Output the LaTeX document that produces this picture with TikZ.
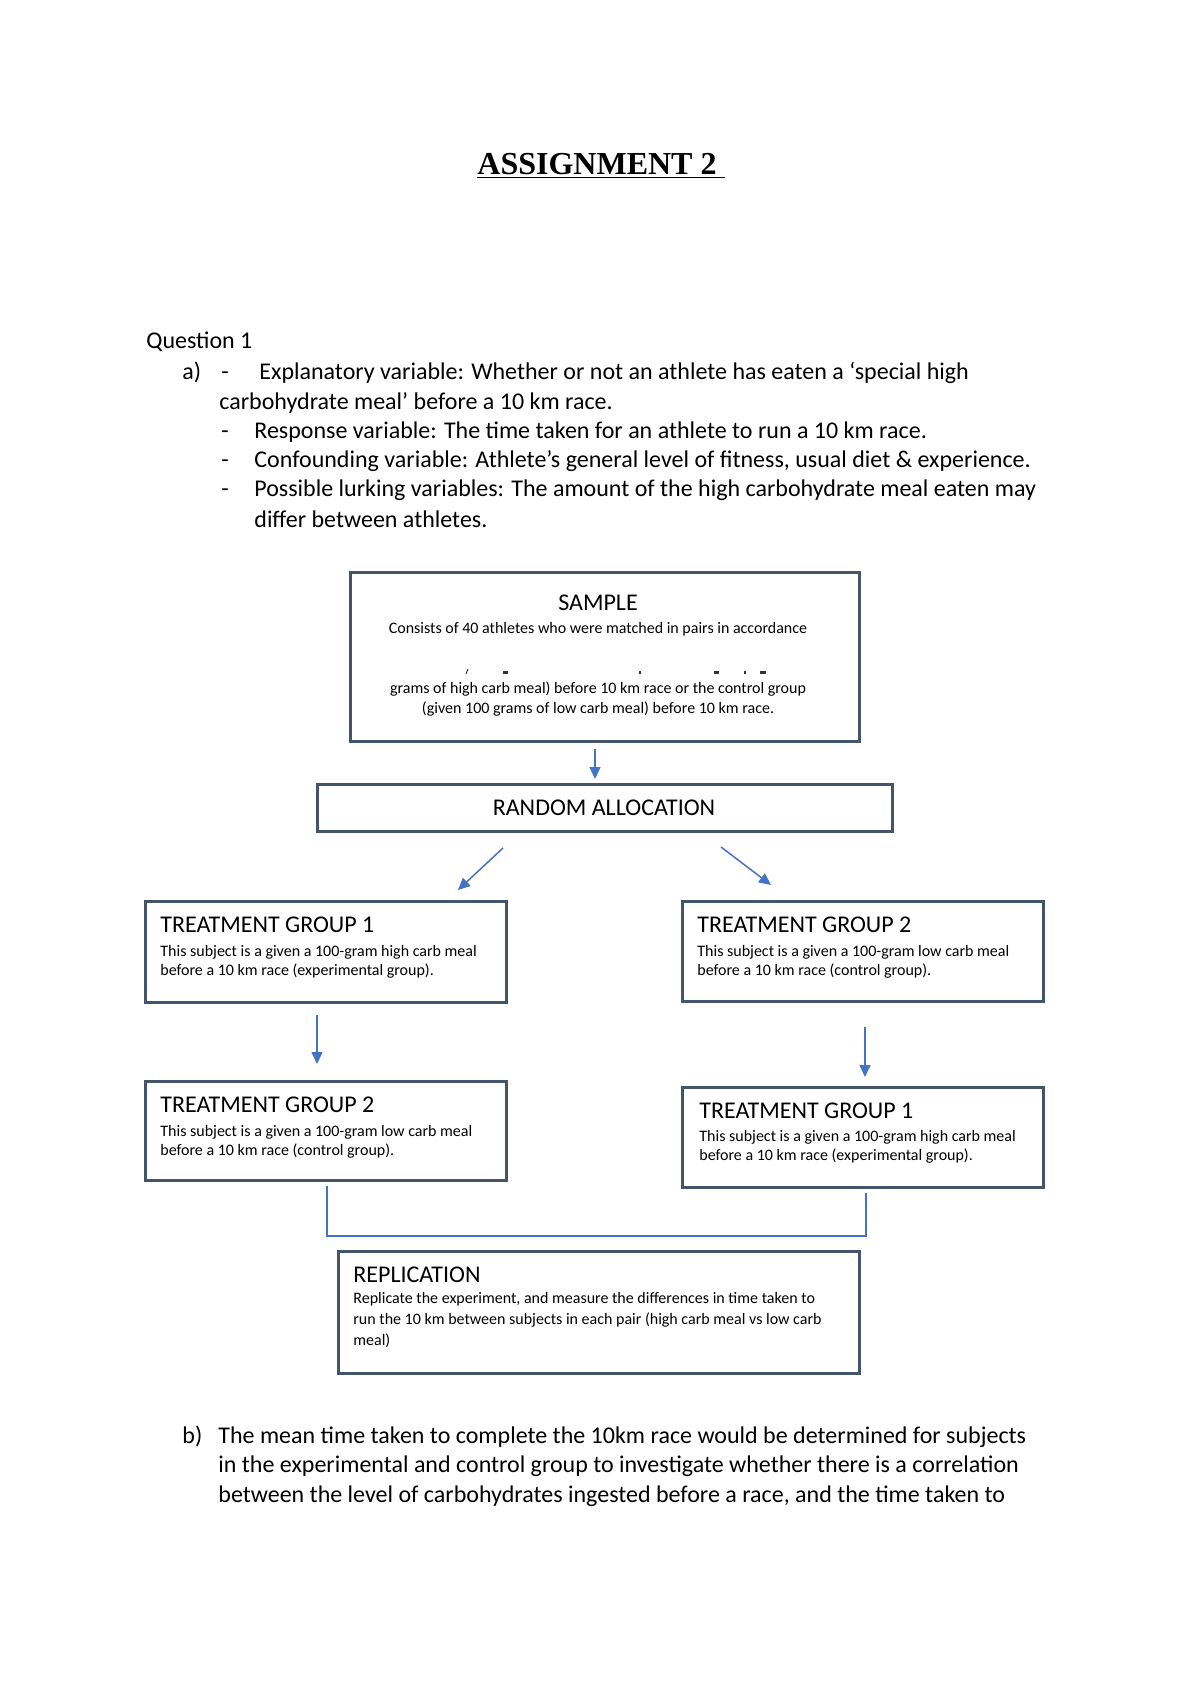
\documentclass[tikz,border=0pt]{standalone}
\usepackage{fontspec}
\setmainfont{Carlito}
\newfontfamily\titlefont{Liberation Serif}
\usetikzlibrary{arrows.meta}
\definecolor{boxline}{HTML}{44546A}
\definecolor{arrblue}{HTML}{4472C4}
\begin{document}
\begin{tikzpicture}[x=0.5pt,y=-0.5pt,
  box/.style={draw=boxline, line width=1.5pt, rectangle, inner sep=0pt, fill=white},
  body/.style={inner sep=0pt, anchor=mid west, yshift=-2pt, font=\fontsize{12}{14.6}\selectfont},
  head/.style={inner sep=0pt, anchor=mid west, yshift=-2pt, font=\fontsize{12}{14.6}\selectfont},
  small/.style={inner sep=0pt, anchor=mid west, yshift=-1pt, font=\fontsize{8}{9.8}\selectfont},
  arr/.style={draw=arrblue, line width=0.75pt, -{Triangle[length=6pt,width=5.5pt]}},
  link/.style={draw=arrblue, line width=0.75pt}]
\useasboundingbox (0,0) rectangle (1200,1698);
\fill[white] (0,0) rectangle (1200,1698);

% title
\node[inner sep=0pt, anchor=mid, font=\titlefont\bfseries\fontsize{16}{19}\selectfont] (ttl) at (601,170) {\underline{ASSIGNMENT 2\ }};

% question a
\node[body] (q1) at (146,340) {Question 1};
\node[body] (qa) at (182,371) {a)};
\node[body] (da) at (221,371) {-};
\node[body] (ta) at (259,371) {Explanatory variable: Whether or not an athlete has eaten a ‘special high};
\node[body] (tab) at (219,401) {carbohydrate meal’ before a 10 km race.};
\node[body] (db) at (221,430) {-};
\node[body] (tb) at (254,430) {Response variable: The time taken for an athlete to run a 10 km race.};
\node[body] (dc) at (221,459) {-};
\node[body] (tc) at (254,459) {Confounding variable: Athlete’s general level of fitness, usual diet \& experience.};
\node[body] (dd) at (221,488) {-};
\node[body] (td) at (254,488) {Possible lurking variables: The amount of the high carbohydrate meal eaten may};
\node[body] (tdb) at (254,519) {differ between athletes.};

% boxes
\node[box, minimum width=254.5pt, minimum height=84.5pt] (sample) at (604.5,656.5) {};
\node[box, minimum width=287.5pt, minimum height=23.5pt] (random) at (604.5,807.5) {};
\node[box, minimum width=180.5pt, minimum height=50.5pt] (tgla) at (325.5,951.5) {};
\node[box, minimum width=180.5pt, minimum height=50pt] (tgra) at (862.5,951) {};
\node[box, minimum width=180.5pt, minimum height=49.5pt] (tglb) at (325.5,1130.5) {};
\node[box, minimum width=180.5pt, minimum height=50pt] (tgrb) at (862.5,1137) {};
\node[box, minimum width=260.5pt, minimum height=61pt] (rep) at (598.5,1312) {};

% sample text
\node[head, anchor=mid] (sh) at (598,602) {SAMPLE};
\node[small, anchor=mid] (s1) at (598,627) {Consists of 40 athletes who were matched in pairs in accordance};
\node[small, anchor=mid] (s2) at (598,687) {grams of high carb meal) before 10 km race or the control group};
\node[small, anchor=mid] (s3) at (598,707) {(given 100 grams of low carb meal) before 10 km race.};
\begin{scope}[black!80, line width=0.5pt]
\draw (468,669) -- (466,674);
\fill (503,671) rectangle (508,673.5);
\fill (639,671) rectangle (641,673.5);
\fill (714,671) rectangle (719,673.5);
\fill (744,671) rectangle (746,673.5);
\fill (760,671) rectangle (766,673.5);
\end{scope}

% random allocation
\node[head, anchor=mid] (rh) at (604,807) {RANDOM ALLOCATION};

% treatment boxes text
\node[head] (h1) at (160,924) {TREATMENT GROUP 1};
\node[small] (h1a) at (160,950) {This subject is a given a 100-gram high carb meal};
\node[small] (h1b) at (160,969) {before a 10 km race (experimental group).};

\node[head] (h2) at (697,924) {TREATMENT GROUP 2};
\node[small] (h2a) at (697,950) {This subject is a given a 100-gram low carb meal};
\node[small] (h2b) at (697,969) {before a 10 km race (control group).};

\node[head] (h3) at (160,1104) {TREATMENT GROUP 2};
\node[small] (h3a) at (160,1130) {This subject is a given a 100-gram low carb meal};
\node[small] (h3b) at (160,1149) {before a 10 km race (control group).};

\node[head] (h4) at (699,1110) {TREATMENT GROUP 1};
\node[small] (h4a) at (699,1135) {This subject is a given a 100-gram high carb meal};
\node[small] (h4b) at (699,1154) {before a 10 km race (experimental group).};

\node[head] (hr) at (353,1274) {REPLICATION};
\node[small] (hra) at (353,1297) {Replicate the experiment, and measure the differences in time taken to};
\node[small] (hrb) at (353,1318) {run the 10 km between subjects in each pair (high carb meal vs low carb};
\node[small] (hrc) at (353,1339) {meal)};

% arrows
\coordinate (a0s) at (595,749); \coordinate (a0e) at (595,779);
\coordinate (a1s) at (503,848); \coordinate (a1e) at (458,890);
\coordinate (a2s) at (721,847); \coordinate (a2e) at (771,885);
\coordinate (a3s) at (317,1015); \coordinate (a3e) at (317,1064);
\coordinate (a4s) at (865,1027); \coordinate (a4e) at (865,1077);
\draw[arr] (a0s) -- (a0e);
\draw[arr] (a1s) -- (a1e);
\draw[arr] (a2s) -- (a2e);
\draw[arr] (a3s) -- (a3e);
\draw[arr] (a4s) -- (a4e);

% joining line
\coordinate (l1) at (327,1186);
\coordinate (l2) at (327,1236);
\coordinate (l3) at (866,1236);
\coordinate (l4) at (866,1193);
\draw[link] (l1) -- (l2) -- (l3) -- (l4);

% question b
\node[body] (qb) at (182,1435) {b)};
\node[body] (b1) at (218,1435) {The mean time taken to complete the 10km race would be determined for subjects};
\node[body] (b2) at (218,1464) {in the experimental and control group to investigate whether there is a correlation};
\node[body] (b3) at (218,1494) {between the level of carbohydrates ingested before a race, and the time taken to};
\end{tikzpicture}
\end{document}
